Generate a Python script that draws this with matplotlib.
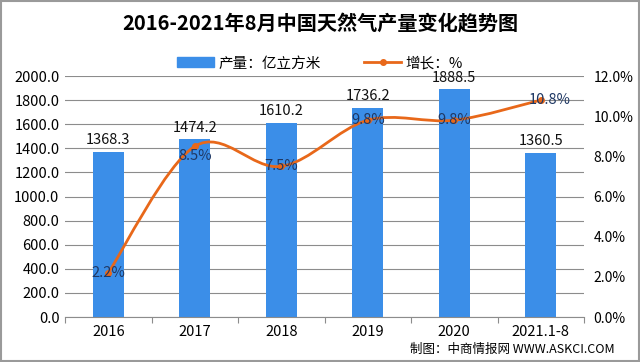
import matplotlib
matplotlib.use("Agg")
import matplotlib.pyplot as plt
from matplotlib.path import Path
from matplotlib.patches import PathPatch, Rectangle
from matplotlib.lines import Line2D

plt.rcParams['font.family'] = ['Noto Sans CJK SC', 'DejaVu Sans']

years = ['2016', '2017', '2018', '2019', '2020', '2021.1-8']
output = [1368.3, 1474.2, 1610.2, 1736.2, 1888.5, 1360.5]
growth = [2.2, 8.5, 7.5, 9.8, 9.8, 10.8]
growth_labels = ['2.2%', '8.5%', '7.5%', '9.8%', '9.8%', '10.8%']

bar_color = '#3b8ee8'
line_color = '#e8681a'
label_color = '#1f3864'

fig = plt.figure(figsize=(6.4, 3.62), dpi=100)
ax = fig.add_axes([0.1016, 0.1243, 0.8109, 0.6657])
ax2 = ax.twinx()

x = list(range(len(years)))
ax.bar(x, output, width=0.36, color=bar_color, zorder=2)
for xi, v in zip(x, output):
    ax.text(xi, v + 40, f'{v:.1f}', ha='center', va='bottom', fontsize=10.5, color='#111111')

ax.set_xlim(-0.5, len(years) - 0.5)
ax.set_ylim(0, 2000)
ax.set_yticks(range(0, 2001, 200))
ax.set_yticklabels([f'{v:.1f}' for v in range(0, 2001, 200)], fontsize=10.5)
ax.grid(axis='y', color='#8c8c8c', linewidth=0.8, zorder=0)
ax.set_axisbelow(True)
ax.set_xticks([i + 0.5 for i in range(-1, len(years))], minor=False)
ax.set_xticklabels([])
ax.set_xticks(x, minor=True)
ax.set_xticklabels(years, minor=True, fontsize=10.5)
ax.tick_params(axis='x', which='major', length=4, color='#8c8c8c')
ax.tick_params(axis='x', which='minor', length=0, pad=6)
ax.tick_params(axis='y', length=0, pad=4)
for s in ['top', 'right', 'left']:
    ax.spines[s].set_visible(False)
ax.spines['bottom'].set_color('#8c8c8c')

# smoothed growth line (Catmull-Rom style bezier through the data points)
verts = [(x[0], growth[0])]
codes = [Path.MOVETO]
for i in range(len(x) - 1):
    p0 = (x[i - 1], growth[i - 1]) if i > 0 else (x[i], growth[i])
    p1 = (x[i], growth[i])
    p2 = (x[i + 1], growth[i + 1])
    p3 = (x[i + 2], growth[i + 2]) if i + 2 < len(x) else p2
    c1 = (p1[0] + (p2[0] - p0[0]) / 6, p1[1] + (p2[1] - p0[1]) / 6)
    c2 = (p2[0] - (p3[0] - p1[0]) / 6, p2[1] - (p3[1] - p1[1]) / 6)
    verts += [c1, c2, p2]
    codes += [Path.CURVE4] * 3
ax2.add_patch(PathPatch(Path(verts, codes), facecolor='none', edgecolor=line_color, linewidth=2, zorder=3))
ax2.plot(x, growth, 'o', color=line_color, markersize=4, zorder=4)

offsets = [(0, 0), (0, -0.5), (0, 0), (0, 0), (0, 0), (0.1, 0)]
for xi, g, lab, (dx, dy) in zip(x, growth, growth_labels, offsets):
    ax2.text(xi + dx, g + dy, lab, ha='center', va='center', fontsize=10.5, color=label_color, zorder=5)

ax2.set_ylim(0, 12)
ax2.set_yticks(range(0, 13, 2))
ax2.set_yticklabels([f'{v:.1f}%' for v in range(0, 13, 2)], fontsize=10)
ax2.tick_params(axis='y', length=0, pad=7)
for s in ['top', 'right', 'left', 'bottom']:
    ax2.spines[s].set_visible(False)

fig.text(0.5, 0.935, '2016-2021年8月中国天然气产量变化趋势图', ha='center', va='center',
         fontsize=14.5, fontweight='bold')

handles = [Rectangle((0, 0), 1, 1, color=bar_color),
           Line2D([0], [0], color=line_color, linewidth=2, marker='o', markersize=4)]
fig.legend(handles, ['产量：亿立方米', '增长：%'], loc='center', bbox_to_anchor=(0.5, 0.825),
           ncol=2, frameon=False, fontsize=10.5, handlelength=2.5, columnspacing=3, handletextpad=0.3)

fig.text(0.96, 0.035, '制图：中商情报网 WWW.ASKCI.COM', ha='right', va='center', fontsize=9)

fig.patches.append(Rectangle((0.002, 0.003), 0.996, 0.994, transform=fig.transFigure,
                             fill=False, edgecolor='#9a9a9a', linewidth=1.5))

fig.savefig('out.png', dpi=100)
